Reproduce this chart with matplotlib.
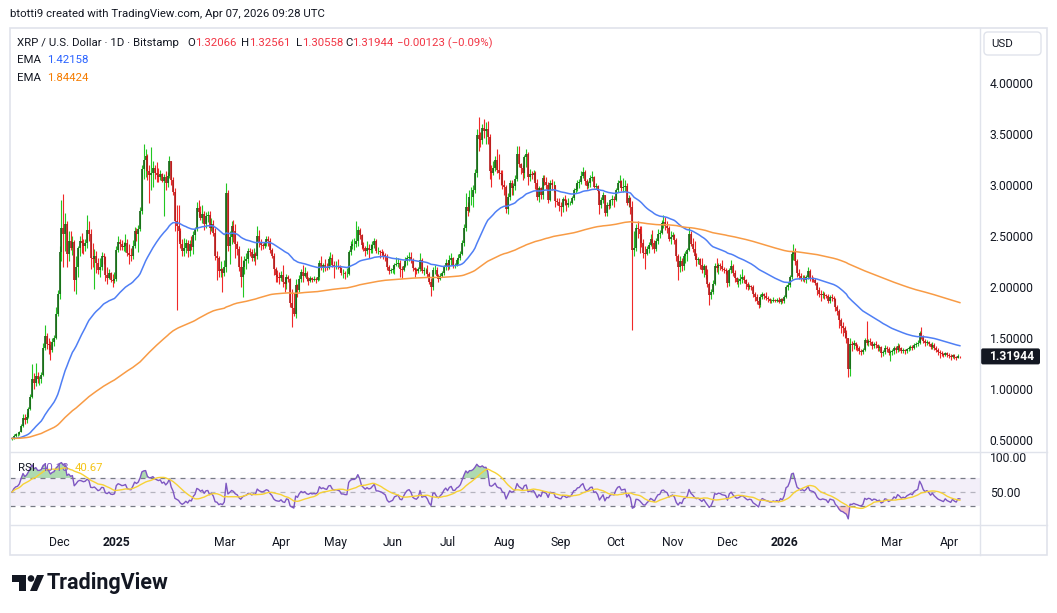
import numpy as np
import pandas as pd
import matplotlib
matplotlib.use("Agg")
import matplotlib.pyplot as plt
from matplotlib.patches import Rectangle, Circle, Polygon, FancyBboxPatch
from matplotlib.lines import Line2D
from matplotlib.transforms import Affine2D
from matplotlib.ticker import FormatStrFormatter

W, H = 1057, 613

start_date = "2024-11-05"
first_open = 0.51

# daily closes, one row per month (Nov 2024 .. Apr 2026)
close = [
    0.515, 0.54, 0.555, 0.56, 0.58, 0.64, 0.72, 0.70, 0.73, 0.80, 0.92, 1.10, 1.06, 1.13, 1.10, 1.10, 1.14, 1.40, 1.52, 1.44, 1.43, 1.38, 1.46, 1.50, 1.74, 1.93,
    2.34, 2.58, 2.52, 2.62, 2.32, 2.45, 2.38, 2.44, 2.07, 2.20, 2.38, 2.45, 2.43, 2.40, 2.43, 2.56, 2.52, 2.28, 2.27, 2.30, 2.24, 2.17, 2.20, 2.30, 2.29, 2.12, 2.09, 2.14, 2.07, 2.06, 2.08,
    2.36, 2.44, 2.42, 2.39, 2.40, 2.43, 2.33, 2.31, 2.30, 2.40, 2.55, 2.52, 2.57, 2.75, 3.16, 3.25, 3.28, 3.14, 3.10, 3.12, 3.17, 3.12, 3.10, 3.08, 3.11, 3.04, 3.08, 3.02, 3.09, 3.24, 3.05,
    2.93, 2.65, 2.60, 2.55, 2.42, 2.35, 2.38, 2.43, 2.35, 2.42, 2.39, 2.51, 2.57, 2.77, 2.74, 2.68, 2.72, 2.62, 2.70, 2.71, 2.58, 2.62, 2.53, 2.30, 2.28, 2.16, 2.18, 2.14,
    2.20, 2.92, 2.40, 2.49, 2.60, 2.55, 2.42, 2.37, 2.20, 2.10, 2.20, 2.25, 2.27, 2.35, 2.34, 2.28, 2.32, 2.30, 2.50, 2.44, 2.41, 2.40, 2.43, 2.47, 2.45, 2.36, 2.30, 2.18, 2.12, 2.10, 2.09,
    2.12, 2.05, 2.03, 2.10, 2.08, 1.84, 1.79, 1.74, 2.02, 1.97, 2.08, 2.15, 2.11, 2.14, 2.08, 2.06, 2.09, 2.07, 2.08, 2.07, 2.10, 2.24, 2.20, 2.22, 2.20, 2.19, 2.27, 2.28, 2.22, 2.20,
    2.21, 2.20, 2.19, 2.14, 2.14, 2.13, 2.13, 2.34, 2.40, 2.42, 2.42, 2.45, 2.56, 2.51, 2.41, 2.38, 2.35, 2.38, 2.36, 2.37, 2.41, 2.45, 2.35, 2.35, 2.34, 2.33, 2.31, 2.29, 2.20, 2.16, 2.17,
    2.18, 2.22, 2.23, 2.24, 2.18, 2.17, 2.21, 2.25, 2.28, 2.29, 2.26, 2.19, 2.17, 2.16, 2.18, 2.26, 2.16, 2.17, 2.17, 2.13, 2.05, 2.00, 2.17, 2.17, 2.11, 2.08, 2.11, 2.14, 2.20, 2.24,
    2.20, 2.26, 2.28, 2.22, 2.22, 2.26, 2.28, 2.32, 2.43, 2.58, 2.78, 2.75, 2.88, 2.88, 2.95, 3.12, 3.49, 3.45, 3.44, 3.56, 3.53, 3.55, 3.47, 3.14, 3.12, 3.17, 3.25, 3.15, 3.12, 3.11, 3.00,
    2.98, 2.76, 2.88, 3.02, 2.97, 2.99, 3.06, 3.30, 3.21, 3.17, 3.12, 3.27, 3.30, 3.08, 3.11, 3.10, 3.12, 3.02, 2.88, 2.97, 2.90, 3.07, 3.03, 3.00, 2.85, 3.02, 3.00, 3.00, 2.84, 2.83, 2.79,
    2.78, 2.86, 2.84, 2.80, 2.82, 2.82, 2.87, 2.95, 2.96, 3.02, 3.03, 3.09, 3.13, 3.04, 2.99, 3.02, 3.07, 3.08, 2.98, 2.99, 2.94, 2.80, 2.85, 2.90, 2.73, 2.80, 2.79, 2.85, 2.86, 2.85,
    2.95, 3.02, 3.04, 2.97, 2.98, 2.99, 2.82, 2.87, 2.78, 2.36, 2.38, 2.58, 2.57, 2.52, 2.43, 2.33, 2.32, 2.37, 2.41, 2.47, 2.43, 2.37, 2.45, 2.52, 2.53, 2.63, 2.64, 2.60, 2.58, 2.47, 2.49,
    2.51, 2.46, 2.30, 2.20, 2.25, 2.21, 2.30, 2.32, 2.36, 2.52, 2.42, 2.37, 2.30, 2.26, 2.27, 2.22, 2.17, 2.21, 2.12, 2.03, 1.92, 1.95, 2.03, 2.21, 2.19, 2.22, 2.21, 2.18, 2.17, 2.16,
    2.04, 2.17, 2.21, 2.14, 2.09, 2.05, 2.06, 2.08, 2.10, 2.07, 2.03, 2.00, 2.01, 2.00, 1.93, 1.90, 1.86, 1.82, 1.90, 1.93, 1.91, 1.89, 1.88, 1.86, 1.86, 1.87, 1.86, 1.87, 1.85, 1.88, 1.86,
    1.90, 2.00, 2.02, 2.10, 2.32, 2.35, 2.25, 2.14, 2.11, 2.08, 2.09, 2.07, 2.10, 2.16, 2.09, 2.08, 2.07, 2.04, 1.97, 1.93, 1.92, 1.93, 1.92, 1.91, 1.86, 1.90, 1.89, 1.88, 1.80, 1.76, 1.68,
    1.62, 1.60, 1.55, 1.50, 1.20, 1.44, 1.43, 1.45, 1.42, 1.40, 1.37, 1.36, 1.38, 1.48, 1.45, 1.47, 1.46, 1.42, 1.44, 1.43, 1.40, 1.41, 1.35, 1.36, 1.40, 1.39, 1.35, 1.36,
    1.37, 1.40, 1.38, 1.42, 1.40, 1.37, 1.38, 1.37, 1.39, 1.40, 1.41, 1.40, 1.43, 1.44, 1.45, 1.55, 1.52, 1.47, 1.45, 1.46, 1.44, 1.41, 1.43, 1.40, 1.38, 1.36, 1.35, 1.34, 1.33, 1.35, 1.33,
    1.32, 1.31, 1.33, 1.31, 1.30, 1.32066, 1.31944,
]

high = [
    0.53, 0.56, 0.57, 0.57, 0.59, 0.66, 0.75, 0.75, 0.77, 0.82, 0.95, 1.24, 1.16, 1.25, 1.17, 1.13, 1.17, 1.45, 1.63, 1.55, 1.50, 1.47, 1.50, 1.53, 1.80, 1.97,
    2.40, 2.85, 2.91, 2.73, 2.65, 2.55, 2.55, 2.50, 2.46, 2.30, 2.40, 2.50, 2.53, 2.47, 2.47, 2.71, 2.65, 2.57, 2.43, 2.37, 2.35, 2.28, 2.28, 2.34, 2.33, 2.30, 2.20, 2.18, 2.15, 2.13, 2.15,
    2.40, 2.50, 2.47, 2.46, 2.44, 2.52, 2.47, 2.42, 2.38, 2.46, 2.59, 2.58, 2.61, 2.78, 3.20, 3.40, 3.35, 3.30, 3.20, 3.37, 3.24, 3.20, 3.23, 3.17, 3.15, 3.12, 3.11, 3.14, 3.13, 3.28, 3.24,
    3.08, 2.97, 2.80, 2.80, 2.58, 2.47, 2.48, 2.47, 2.46, 2.46, 2.50, 2.55, 2.59, 2.83, 2.85, 2.79, 2.80, 2.75, 2.74, 2.75, 2.75, 2.68, 2.66, 2.58, 2.35, 2.30, 2.25, 2.19,
    2.26, 3.02, 2.95, 2.55, 2.65, 2.66, 2.62, 2.45, 2.40, 2.30, 2.26, 2.30, 2.33, 2.38, 2.38, 2.37, 2.38, 2.34, 2.60, 2.56, 2.47, 2.43, 2.45, 2.50, 2.50, 2.48, 2.38, 2.33, 2.20, 2.17, 2.15,
    2.16, 2.22, 2.10, 2.13, 2.12, 2.09, 1.98, 1.94, 2.08, 2.03, 2.12, 2.18, 2.22, 2.20, 2.16, 2.10, 2.11, 2.10, 2.11, 2.10, 2.19, 2.26, 2.30, 2.24, 2.27, 2.24, 2.30, 2.34, 2.32, 2.25,
    2.25, 2.27, 2.22, 2.20, 2.18, 2.16, 2.19, 2.36, 2.45, 2.47, 2.48, 2.65, 2.60, 2.58, 2.52, 2.44, 2.40, 2.45, 2.42, 2.42, 2.45, 2.48, 2.47, 2.39, 2.36, 2.37, 2.35, 2.33, 2.32, 2.22, 2.19,
    2.22, 2.24, 2.29, 2.28, 2.26, 2.21, 2.23, 2.29, 2.31, 2.34, 2.34, 2.28, 2.20, 2.19, 2.20, 2.33, 2.28, 2.20, 2.19, 2.22, 2.15, 2.09, 2.20, 2.22, 2.20, 2.13, 2.14, 2.16, 2.22, 2.27,
    2.26, 2.31, 2.33, 2.29, 2.24, 2.28, 2.32, 2.35, 2.46, 2.62, 2.92, 2.83, 2.95, 2.98, 3.00, 3.16, 3.55, 3.67, 3.52, 3.60, 3.65, 3.62, 3.63, 3.50, 3.20, 3.24, 3.28, 3.35, 3.30, 3.15, 3.15,
    3.05, 3.00, 2.92, 3.05, 3.05, 3.02, 3.10, 3.38, 3.38, 3.22, 3.20, 3.29, 3.35, 3.32, 3.16, 3.14, 3.15, 3.14, 3.06, 2.99, 2.98, 3.10, 3.10, 3.08, 3.03, 3.05, 3.06, 3.04, 3.00, 2.87, 2.87,
    2.83, 2.88, 2.90, 2.86, 2.87, 2.84, 2.89, 2.97, 3.02, 3.05, 3.06, 3.14, 3.18, 3.15, 3.06, 3.04, 3.10, 3.14, 3.09, 3.02, 3.00, 2.93, 2.88, 2.93, 2.90, 2.83, 2.82, 2.86, 2.90, 2.89,
    2.97, 3.05, 3.10, 3.05, 3.07, 3.05, 3.02, 2.90, 2.88, 2.84, 2.55, 2.62, 2.65, 2.60, 2.60, 2.47, 2.40, 2.40, 2.44, 2.52, 2.56, 2.46, 2.48, 2.57, 2.56, 2.66, 2.71, 2.69, 2.65, 2.60, 2.55,
    2.54, 2.52, 2.48, 2.32, 2.30, 2.28, 2.33, 2.35, 2.38, 2.59, 2.55, 2.48, 2.45, 2.33, 2.29, 2.28, 2.28, 2.23, 2.22, 2.18, 2.05, 1.98, 2.07, 2.24, 2.28, 2.24, 2.24, 2.26, 2.20, 2.19,
    2.17, 2.19, 2.26, 2.23, 2.17, 2.10, 2.09, 2.13, 2.18, 2.12, 2.08, 2.05, 2.03, 2.02, 2.02, 1.95, 1.93, 1.90, 1.93, 1.95, 1.94, 1.95, 1.91, 1.89, 1.88, 1.90, 1.88, 1.89, 1.90, 1.89, 1.89,
    1.92, 2.02, 2.05, 2.12, 2.34, 2.42, 2.38, 2.27, 2.18, 2.14, 2.12, 2.12, 2.12, 2.20, 2.18, 2.12, 2.10, 2.09, 2.05, 2.00, 1.97, 1.96, 1.95, 1.93, 1.93, 1.92, 1.93, 1.91, 1.89, 1.82, 1.78,
    1.70, 1.66, 1.62, 1.58, 1.50, 1.50, 1.47, 1.48, 1.46, 1.44, 1.42, 1.39, 1.40, 1.50, 1.67, 1.49, 1.50, 1.47, 1.46, 1.47, 1.44, 1.43, 1.42, 1.38, 1.43, 1.42, 1.41, 1.38,
    1.39, 1.42, 1.42, 1.45, 1.44, 1.41, 1.40, 1.39, 1.40, 1.42, 1.43, 1.43, 1.45, 1.46, 1.48, 1.57, 1.61, 1.53, 1.49, 1.48, 1.47, 1.45, 1.46, 1.45, 1.42, 1.40, 1.38, 1.37, 1.35, 1.36, 1.36,
    1.35, 1.34, 1.34, 1.34, 1.32, 1.34, 1.32561,
]

low = [
    0.50, 0.51, 0.53, 0.54, 0.55, 0.58, 0.63, 0.66, 0.67, 0.72, 0.79, 0.91, 1.00, 1.03, 1.06, 1.04, 1.06, 1.13, 1.38, 1.39, 1.34, 1.28, 1.36, 1.42, 1.49, 1.72,
    1.88, 2.25, 2.20, 2.35, 2.20, 2.25, 2.36, 2.31, 1.96, 1.93, 2.10, 2.30, 2.33, 2.32, 2.35, 2.38, 2.45, 2.18, 2.20, 1.98, 2.14, 2.13, 2.10, 2.17, 2.23, 2.06, 2.03, 2.08, 2.05, 2.00, 2.04,
    2.06, 2.34, 2.36, 2.36, 2.35, 2.34, 2.30, 2.23, 2.25, 2.27, 2.38, 2.45, 2.34, 2.55, 2.72, 3.06, 3.08, 3.05, 2.82, 2.95, 2.98, 3.06, 3.03, 3.03, 3.05, 3.03, 2.70, 2.95, 2.98, 3.07, 3.00,
    2.90, 2.55, 1.77, 2.45, 2.38, 2.30, 2.30, 2.33, 2.29, 2.30, 2.36, 2.32, 2.46, 2.55, 2.70, 2.66, 2.63, 2.56, 2.58, 2.64, 2.52, 2.55, 2.50, 2.26, 2.07, 2.10, 2.10, 1.95,
    2.11, 2.15, 2.35, 2.23, 2.42, 2.44, 2.28, 2.31, 2.16, 2.00, 1.90, 2.13, 2.18, 2.24, 2.30, 2.25, 2.25, 2.22, 2.27, 2.39, 2.36, 2.37, 2.38, 2.40, 2.40, 2.33, 2.28, 2.12, 2.05, 2.05, 2.03,
    2.06, 2.00, 1.95, 1.98, 2.05, 1.80, 1.61, 1.72, 1.70, 1.90, 1.95, 2.05, 2.05, 2.10, 2.06, 2.02, 2.05, 2.05, 2.06, 2.04, 2.06, 2.07, 2.17, 2.15, 2.16, 2.17, 2.18, 2.21, 2.20, 2.09,
    2.18, 2.18, 2.15, 2.12, 2.09, 2.08, 2.10, 2.12, 2.31, 2.37, 2.36, 2.39, 2.40, 2.47, 2.37, 2.35, 2.30, 2.32, 2.28, 2.33, 2.33, 2.38, 2.33, 2.32, 2.28, 2.30, 2.27, 2.25, 2.17, 2.13, 2.14,
    2.14, 2.13, 2.21, 2.20, 2.10, 2.09, 2.16, 2.20, 2.22, 2.25, 2.24, 2.16, 2.10, 2.13, 2.14, 2.16, 2.14, 2.12, 2.14, 2.10, 2.03, 1.91, 1.97, 2.13, 2.10, 2.05, 2.07, 2.10, 2.12, 2.17,
    2.17, 2.18, 2.22, 2.19, 2.19, 2.21, 2.23, 2.26, 2.31, 2.40, 2.55, 2.70, 2.74, 2.80, 2.78, 2.92, 3.08, 3.33, 3.37, 3.40, 3.46, 3.40, 3.40, 3.06, 2.98, 3.10, 3.14, 3.12, 3.06, 3.00, 2.96,
    2.90, 2.73, 2.72, 2.85, 2.90, 2.90, 2.95, 3.04, 3.18, 3.11, 3.05, 3.07, 3.18, 3.00, 3.04, 3.06, 3.05, 2.96, 2.85, 2.83, 2.86, 2.86, 3.00, 2.96, 2.82, 2.84, 2.95, 2.93, 2.78, 2.80, 2.75,
    2.70, 2.74, 2.80, 2.75, 2.78, 2.80, 2.81, 2.85, 2.92, 2.94, 2.97, 3.01, 3.07, 3.00, 2.96, 2.97, 2.98, 3.04, 2.97, 2.96, 2.92, 2.72, 2.77, 2.82, 2.70, 2.70, 2.76, 2.77, 2.80, 2.78,
    2.84, 2.93, 2.98, 2.94, 2.93, 2.94, 2.80, 2.78, 2.72, 1.58, 2.30, 2.35, 2.48, 2.33, 2.39, 2.28, 2.18, 2.31, 2.33, 2.40, 2.37, 2.33, 2.35, 2.42, 2.48, 2.52, 2.58, 2.56, 2.53, 2.45, 2.42,
    2.47, 2.42, 2.25, 2.07, 2.15, 2.16, 2.17, 2.24, 2.25, 2.35, 2.40, 2.34, 2.27, 2.21, 2.23, 2.18, 2.14, 2.10, 2.08, 2.00, 1.82, 1.88, 1.93, 2.02, 2.15, 2.13, 2.17, 2.16, 2.14, 2.13,
    2.00, 2.01, 2.14, 2.11, 2.05, 2.03, 2.00, 2.03, 2.04, 2.04, 1.98, 1.97, 1.98, 1.97, 1.90, 1.86, 1.83, 1.79, 1.80, 1.88, 1.88, 1.87, 1.85, 1.84, 1.84, 1.85, 1.85, 1.85, 1.84, 1.83, 1.84,
    1.84, 1.89, 1.97, 2.00, 2.08, 2.26, 2.22, 2.10, 2.08, 2.06, 2.06, 2.05, 2.04, 2.08, 2.06, 2.05, 2.05, 2.02, 1.92, 1.90, 1.86, 1.89, 1.88, 1.89, 1.84, 1.84, 1.86, 1.86, 1.76, 1.73, 1.60,
    1.55, 1.52, 1.50, 1.45, 1.12, 1.13, 1.37, 1.39, 1.38, 1.37, 1.34, 1.33, 1.34, 1.37, 1.43, 1.42, 1.43, 1.39, 1.40, 1.40, 1.37, 1.37, 1.31, 1.32, 1.34, 1.36, 1.33, 1.27,
    1.33, 1.34, 1.35, 1.36, 1.37, 1.35, 1.35, 1.34, 1.35, 1.37, 1.38, 1.38, 1.39, 1.41, 1.42, 1.44, 1.49, 1.45, 1.42, 1.43, 1.42, 1.39, 1.39, 1.38, 1.36, 1.33, 1.30, 1.32, 1.31, 1.32, 1.31,
    1.30, 1.28, 1.30, 1.29, 1.28, 1.30, 1.30558,
]

price_ticks = [0.5, 1.0, 1.5, 2.0, 2.5, 3.0, 3.5, 4.0]
rsi_ticks = [50, 100]
tick_dates = ["2024-12-01", "2025-01-01", "2025-03-01", "2025-04-01", "2025-05-01",
              "2025-06-01", "2025-07-01", "2025-08-01", "2025-09-01", "2025-10-01",
              "2025-11-01", "2025-12-01", "2026-01-01", "2026-03-01", "2026-04-01"]
tick_labels = ["Dec", "2025", "Mar", "Apr", "May", "Jun", "Jul", "Aug", "Sep", "Oct",
               "Nov", "Dec", "2026", "Mar", "Apr"]

header = "btotti9 created with TradingView.com, Apr 07, 2026 09:28 UTC"
symbol = "XRP / U.S. Dollar \u00b7 1D \u00b7 Bitstamp"
ohlc_text = [("O", "1.32066"), ("H", "1.32561"), ("L", "1.30558"), ("C", "1.31944")]
change_text = "\u22120.00123 (\u22120.09%)"
ema_fast_text, ema_slow_text = "1.42158", "1.84424"
rsi_text, rsi_ma_text = "40.13", "40.67"

TXT = "#131722"
GREEN, DGREEN = "#22c722", "#176317"
RED, DRED = "#f02828", "#b31c1c"
BLUE, ORANGE = "#4f7ff5", "#f89b45"
RSI_C, RSI_MA_C = "#7e57c2", "#f7d236"
GRID = "#e0e3eb"
LBL = 8.7

plt.rcParams['font.family'] = ['Roboto', 'DejaVu Sans']

n = min(len(close), len(high), len(low))
c = np.array(close[:n])
h = np.array(high[:n])
l = np.array(low[:n])
o = np.r_[first_open, c[:-1]]
x = np.arange(n)
dates = pd.date_range(start_date, periods=n, freq="D")

s = pd.Series(c)
ema_fast = s.ewm(span=50, adjust=False).mean()
ema_slow = s.ewm(span=200, adjust=False).mean()

# Wilder RSI(14) with a neutral seed, plus its 14-day SMA
ag = al = 0.01
rsi = []
prev = c[0]
for v in c:
    d = v - prev
    prev = v
    ag = (ag * 13 + max(d, 0)) / 14
    al = (al * 13 + max(-d, 0)) / 14
    rsi.append(100 - 100 / (1 + ag / al))
rsi = np.array(rsi)
rsi_ma = pd.Series(rsi).rolling(14, min_periods=1).mean().values

fig = plt.figure(figsize=(W / 100, H / 100), dpi=100)
fig.patch.set_facecolor("white")
pix = Affine2D().scale(1 / W, -1 / H).translate(0, 1) + fig.transFigure


def box(x0, y0, x1, y1):
    return [x0 / W, 1 - y1 / H, (x1 - x0) / W, (y1 - y0) / H]


ax = fig.add_axes(box(10, 30, 980, 452))
rax = fig.add_axes(box(10, 452, 980, 525))

# candles
up = c >= o
ax.vlines(x[up], l[up], h[up], color=GREEN, lw=0.8, zorder=2)
ax.vlines(x[~up], l[~up], h[~up], color=RED, lw=0.8, zorder=2)
ax.vlines(x[up], o[up], c[up], color=DGREEN, lw=1.2, zorder=2.1)
ax.vlines(x[~up], c[~up], o[~up], color=DRED, lw=1.2, zorder=2.1)
ax.plot(x, ema_fast, color=BLUE, lw=1.1, zorder=3)
ax.plot(x, ema_slow, color=ORANGE, lw=1.1, zorder=3)

xlim = (-1.1, 529)
ax.set_xlim(*xlim)
ax.set_ylim(0.382, 4.52)
ax.set_yticks(price_ticks)
ax.yaxis.set_major_formatter(FormatStrFormatter("%.5f"))
ax.yaxis.tick_right()
ax.tick_params(axis="y", length=0, pad=7, labelsize=LBL, labelcolor=TXT)
ax.tick_params(axis="x", bottom=False, labelbottom=False)
for sp in ax.spines.values():
    sp.set_visible(False)

# RSI pane
rax.axhspan(30, 70, color=RSI_C, alpha=0.09, lw=0)
for lev, a in [(70, 1.0), (30, 1.0), (50, 0.5)]:
    rax.axhline(lev, color="#787b86", lw=0.9, ls=(0, (4, 4)), alpha=a)
rax.fill_between(x, rsi, 70, where=rsi > 70, interpolate=True, color="#4caf50", alpha=0.45, lw=0)
rax.fill_between(x, rsi, 30, where=rsi < 30, interpolate=True, color="#ef5350", alpha=0.35, lw=0)
rax.plot(x, rsi, color=RSI_C, lw=1.0)
rax.plot(x, rsi_ma, color=RSI_MA_C, lw=1.0)
rax.set_xlim(*xlim)
rax.set_ylim(3, 107)
rax.set_yticks(rsi_ticks)
rax.yaxis.set_major_formatter(FormatStrFormatter("%.2f"))
rax.yaxis.tick_right()
rax.tick_params(axis="y", length=0, pad=7, labelsize=LBL, labelcolor=TXT)
pos = [dates.get_loc(pd.Timestamp(t)) for t in tick_dates]
rax.set_xticks(pos)
rax.set_xticklabels(tick_labels)
rax.tick_params(axis="x", length=0, pad=8, labelsize=LBL, labelcolor=TXT)
for t in rax.get_xticklabels():
    if t.get_text().isdigit():
        t.set_fontweight("bold")
for sp in rax.spines.values():
    sp.set_visible(False)

# frame and separators
fig.add_artist(Rectangle((10, 28), 1037, 527, transform=pix, fill=False, ec=GRID, lw=1.2))
for xs, ys in [((10, 1047), (452, 452)), ((10, 1047), (525, 525)), ((980, 980), (28, 555))]:
    fig.add_artist(Line2D(xs, ys, transform=pix, color=GRID, lw=1.0))

# USD box
fig.add_artist(FancyBboxPatch((984, 32), 57, 23, boxstyle="round,pad=0,rounding_size=4",
                              transform=pix, fc="white", ec=GRID, lw=1.0))
fig.text(991 / W, 1 - 44 / H, "USD", fontsize=8.2, color=TXT, va="center")

# last price label
yd = ax.transData.transform((0, c[-1]))[1]
ypx = H - yd
fig.add_artist(FancyBboxPatch((981, ypx - 8), 59, 16, boxstyle="round,pad=0,rounding_size=2",
                              transform=pix, fc=TXT, ec=TXT, lw=0))
fig.text(989 / W, 1 - ypx / H, f"{c[-1]:.5f}", fontsize=LBL, color="white",
         fontweight="bold", va="center")

# texts
fig.text(10 / W, 1 - 14 / H, header, fontsize=8.2, color=TXT, va="center")
renderer = fig.canvas.get_renderer()


def chain(x0, y0, parts, size=8.2):
    xx = x0
    for txt, col in parts:
        t = fig.text(xx / W, 1 - y0 / H, txt, fontsize=size, color=col, va="center")
        xx += t.get_window_extent(renderer=renderer).width
    return xx


chain(17, 43, [(symbol, TXT)])
ohlc_x = [187, 241, 296, 345]
for (k, v), px in zip(ohlc_text, ohlc_x):
    chain(px, 43, [(k, TXT), (v, "#f23645")])
chain(397, 43, [(change_text, "#f23645")])
chain(17, 60, [("EMA  ", TXT), (ema_fast_text, "#2962ff")])
chain(17, 78, [("EMA  ", TXT), (ema_slow_text, "#f57c00")])
chain(18, 468, [("RSI  ", TXT), (rsi_text, RSI_C), ("  ", TXT), (rsi_ma_text, "#f5c518")])

# TradingView logo
fig.add_artist(Polygon([(12, 575), (26, 575), (26, 591), (19, 591), (19, 582), (12, 582)],
                       closed=True, transform=pix, fc=TXT, ec="none"))
fig.add_artist(Circle((31, 578.5), 3.3, transform=pix, fc=TXT, ec="none"))
fig.add_artist(Polygon([(37, 575), (44, 575), (37, 591), (30, 591)],
                       closed=True, transform=pix, fc=TXT, ec="none"))
fig.text(47 / W, 1 - 583 / H, "TradingView", fontsize=15.5, fontweight="bold", color=TXT, va="center")

fig.savefig("out.png", dpi=100, facecolor="white")
